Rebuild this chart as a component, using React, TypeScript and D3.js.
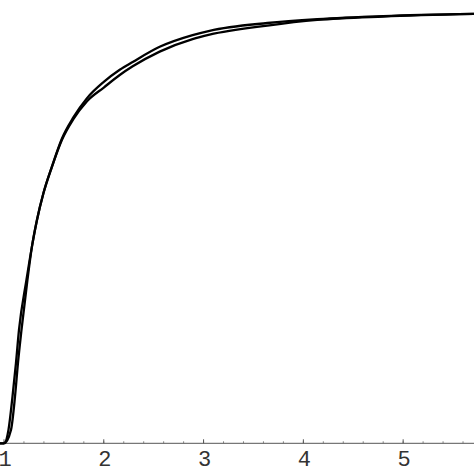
import React, { useEffect, useRef } from "react";
import * as d3 from "d3";

const outerX = [0.96, 1.0, 1.045, 1.085, 1.12, 1.15, 1.225, 1.28, 1.33, 1.395, 1.48, 1.58, 1.695, 1.83, 2.0, 2.16, 2.29, 2.56, 2.89, 3.06, 3.64, 4.14, 4.8, 5.71];
const outerY = [0, 0, 0.031, 0.107, 0.185, 0.261, 0.377, 0.454, 0.515, 0.577, 0.638, 0.703, 0.752, 0.796, 0.834, 0.862, 0.88, 0.915, 0.942, 0.952, 0.97, 0.979, 0.986, 0.991];

const innerX = [0.96, 1.0, 1.07, 1.11, 1.14, 1.175, 1.235, 1.28, 1.33, 1.395, 1.48, 1.58, 1.695, 1.83, 2.0, 2.16, 2.29, 2.56, 2.89, 3.06, 3.64, 4.14, 4.8, 5.71];
const innerY = [0, 0, 0.031, 0.107, 0.185, 0.261, 0.377, 0.454, 0.515, 0.577, 0.638, 0.7, 0.748, 0.789, 0.821, 0.85, 0.87, 0.904, 0.933, 0.943, 0.964, 0.977, 0.985, 0.991];

const majorTicks = [1, 2, 3, 4, 5];
const minorTicks = d3.range(1, 5.7, 0.2);

const W = 474;
const H = 474;

export default function App() {
  const svgRef = useRef<SVGSVGElement>(null);

  useEffect(() => {
    if (!svgRef.current) return;
    const svg = d3.select(svgRef.current);
    svg.selectAll("*").remove();

    const x = d3.scaleLinear().domain([0.96, 5.71]).range([0, W]);
    const y = d3.scaleLinear().domain([0, 1]).range([443.3, 10]);

    // axis line
    svg
      .append("line")
      .attr("x1", 0)
      .attr("x2", W)
      .attr("y1", y(0))
      .attr("y2", y(0))
      .attr("stroke", "#555")
      .attr("stroke-width", 1);

    svg
      .selectAll(".minor")
      .data(minorTicks)
      .enter()
      .append("line")
      .attr("x1", (d) => x(d))
      .attr("x2", (d) => x(d))
      .attr("y1", y(0) - 2)
      .attr("y2", y(0))
      .attr("stroke", "#666")
      .attr("stroke-width", 0.8);

    svg
      .selectAll(".major")
      .data(majorTicks)
      .enter()
      .append("line")
      .attr("x1", (d) => x(d))
      .attr("x2", (d) => x(d))
      .attr("y1", y(0) - 4)
      .attr("y2", y(0))
      .attr("stroke", "#555")
      .attr("stroke-width", 1);

    svg
      .selectAll(".lbl")
      .data(majorTicks)
      .enter()
      .append("text")
      .attr("x", (d) => x(d) + 1)
      .attr("y", 466)
      .attr("text-anchor", "middle")
      .attr("font-family", "'Liberation Mono', 'DejaVu Sans Mono', monospace")
      .attr("font-size", 22)
      .attr("fill", "#333")
      .text((d) => String(d));

    const line = d3
      .line<number>()
      .x((d) => x(d))
      .curve(d3.curveMonotoneX);

    svg
      .append("path")
      .attr("d", line.y((_, i) => y(innerY[i]))(innerX))
      .attr("fill", "none")
      .attr("stroke", "#000")
      .attr("stroke-width", 2.3);

    svg
      .append("path")
      .attr("d", line.y((_, i) => y(outerY[i]))(outerX))
      .attr("fill", "none")
      .attr("stroke", "#000")
      .attr("stroke-width", 2.3);
  }, []);

  return (
    <svg
      ref={svgRef}
      width={W}
      height={H}
      style={{ position: "absolute", left: 0, top: 0, background: "#fff" }}
    />
  );
}
